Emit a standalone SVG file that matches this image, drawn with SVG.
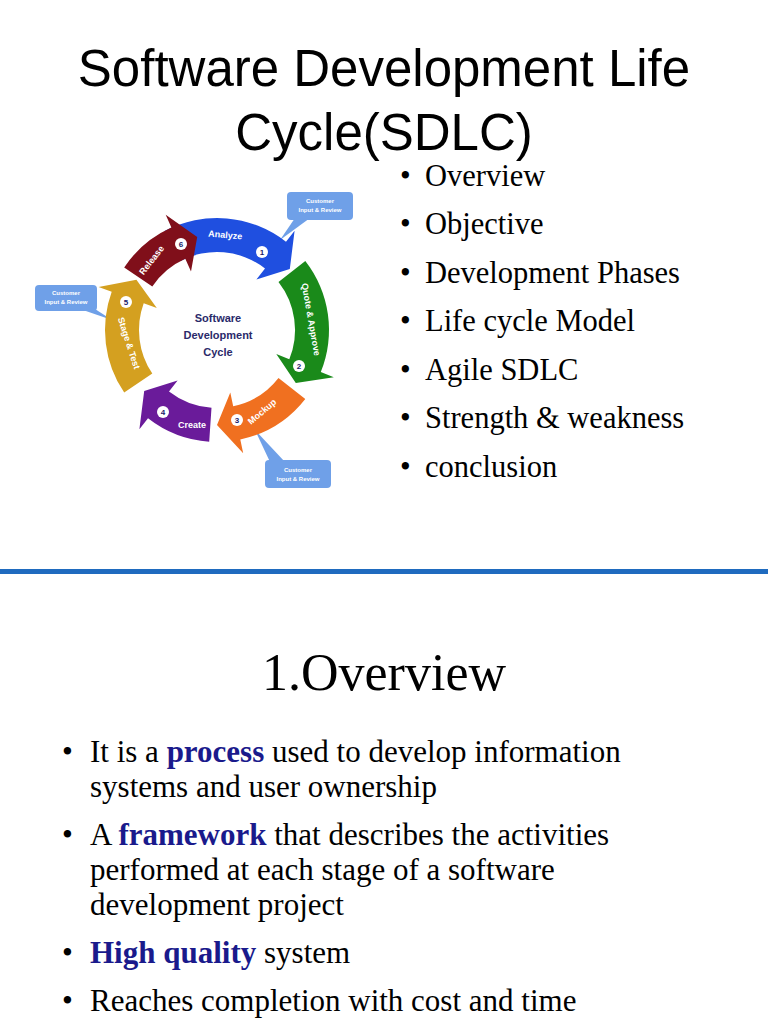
<svg xmlns="http://www.w3.org/2000/svg" width="768" height="1024" viewBox="0 0 768 1024">
<style>
.t{font-family:"Liberation Sans",Arial,sans-serif;font-size:51px;fill:#000;text-anchor:middle}
.b{font-family:"Liberation Serif","Times New Roman",serif;font-size:30.5px;fill:#000}
.c{font-family:"Liberation Serif","Times New Roman",serif;font-size:31px;fill:#000}
.k{fill:#1a1a8c;font-weight:bold}
.lbl{font-family:"Liberation Sans",Arial,sans-serif;font-size:9px;font-weight:bold;fill:#fff;text-anchor:middle}
.cb{fill:#6fa0e8}
.cbt{font-family:"Liberation Sans",Arial,sans-serif;font-size:6px;font-weight:bold;fill:#fff;text-anchor:middle}
.num{font-family:"Liberation Sans",Arial,sans-serif;font-size:8px;font-weight:bold;fill:#1a1a6a;text-anchor:middle}
</style>
<rect width="768" height="1024" fill="#fff"/>
<text class="t" x="384" y="86">Software Development Life</text>
<text class="t" x="384" y="150">Cycle(SDLC)</text>
<g id="cycle">
<rect class="cb" x="287" y="192" width="66" height="28" rx="4"/>
<polygon class="cb" points="295,218 310,218 280,240"/>
<text class="cbt" x="320" y="203">Customer</text><text class="cbt" x="320" y="212">Input &amp; Review</text>
<rect class="cb" x="35" y="285" width="62" height="26" rx="4"/>
<polygon class="cb" points="80,309 95,309 112,320"/>
<text class="cbt" x="66" y="295">Customer</text><text class="cbt" x="66" y="304">Input &amp; Review</text>
<rect class="cb" x="265" y="460" width="66" height="28" rx="4"/>
<polygon class="cb" points="270,462 285,462 255,430"/>
<text class="cbt" x="298" y="472">Customer</text><text class="cbt" x="298" y="481">Input &amp; Review</text>
<path fill="#1f4fe0" d="M164.5,231.1 A112,112 0 0 1 286,241.7 L294.6,230.7 L289.8,268.9 L256.4,279.6 L265,268.5 A78,78 0 0 0 180.4,261.1 Z"/>
<path fill="#1a8a1a" d="M305.3,261 A112,112 0 0 1 320.8,372 L333.8,377.2 L295.8,383.1 L276.3,354 L289.3,359.3 A78,78 0 0 0 278.5,282 Z"/>
<path fill="#f07020" d="M305.3,399 A112,112 0 0 1 240.3,439.5 L243.2,453.2 L217,425 L230.3,392.6 L233.2,406.3 A78,78 0 0 0 278.5,378 Z"/>
<path fill="#6a1b9a" d="M209.2,441.8 A112,112 0 0 1 148,418.3 L139.4,429.3 L144.2,391.1 L177.6,380.4 L169,391.5 A78,78 0 0 0 211.5,407.8 Z"/>
<path fill="#d4a020" d="M124.2,392.6 A112,112 0 0 1 111.7,291.7 L98.6,286.9 L136.4,279.7 L156.8,308.1 L143.7,303.3 A78,78 0 0 0 152.3,373.6 Z"/>
<path fill="#800f1a" d="M124.2,267.4 A112,112 0 0 1 171.4,227.6 L165.7,214.8 L197.2,237.1 L191,271.5 L185.3,258.7 A78,78 0 0 0 152.3,286.4 Z"/>
<text class="lbl" x="225" y="238" transform="rotate(5 225 238)">Analyze</text>
<text class="lbl" x="308" y="320" transform="rotate(80 308 320)">Quote &amp; Approve</text>
<text class="lbl" x="264" y="414" transform="rotate(-40 264 414)">Mockup</text>
<text class="lbl" x="192" y="428">Create</text>
<text class="lbl" x="126" y="344" transform="rotate(72 126 344)">Stage &amp; Test</text>
<text class="lbl" x="154" y="262" transform="rotate(-52 154 262)">Release</text>
<g fill="#fff">
<circle cx="262" cy="252" r="6"/><circle cx="299" cy="366" r="6"/><circle cx="237" cy="420" r="6"/>
<circle cx="163" cy="412" r="6"/><circle cx="126" cy="302" r="6"/><circle cx="181" cy="244" r="6"/>
</g>
<text class="num" x="262" y="255">1</text><text class="num" x="299" y="369">2</text><text class="num" x="237" y="423">3</text>
<text class="num" x="163" y="415">4</text><text class="num" x="126" y="305">5</text><text class="num" x="181" y="247">6</text>
<g font-family="Liberation Sans,Arial,sans-serif" font-size="11" font-weight="bold" fill="#2a2a6a" text-anchor="middle">
<text x="218" y="322">Software</text><text x="218" y="339">Development</text><text x="218" y="356">Cycle</text>
</g>
</g>
<g class="b">
<text x="400" y="186">•</text><text x="425" y="186">Overview</text>
<text x="400" y="234">•</text><text x="425" y="234">Objective</text>
<text x="400" y="283">•</text><text x="425" y="283">Development Phases</text>
<text x="400" y="331">•</text><text x="425" y="331">Life cycle Model</text>
<text x="400" y="380">•</text><text x="425" y="380">Agile SDLC</text>
<text x="400" y="428">•</text><text x="425" y="428">Strength &amp; weakness</text>
<text x="400" y="477">•</text><text x="425" y="477">conclusion</text>
</g>
<rect x="0" y="569" width="768" height="5" fill="#1f6bbf"/>
<text x="384" y="690" font-family="Liberation Serif,Times New Roman,serif" font-size="52" text-anchor="middle">1.Overview</text>
<g class="c">
<text x="62" y="762">•</text><text x="90" y="762">It is a <tspan class="k">process</tspan> used to develop information</text>
<text x="90" y="797">systems and user ownership</text>
<text x="62" y="845">•</text><text x="90" y="845">A <tspan class="k">framework</tspan> that describes the activities</text>
<text x="90" y="880">performed at each stage of a software</text>
<text x="90" y="915">development project</text>
<text x="62" y="963">•</text><text x="90" y="963"><tspan class="k">High quality</tspan> system</text>
<text x="62" y="1011">•</text><text x="90" y="1011">Reaches completion with cost and time</text>
</g>
</svg>
